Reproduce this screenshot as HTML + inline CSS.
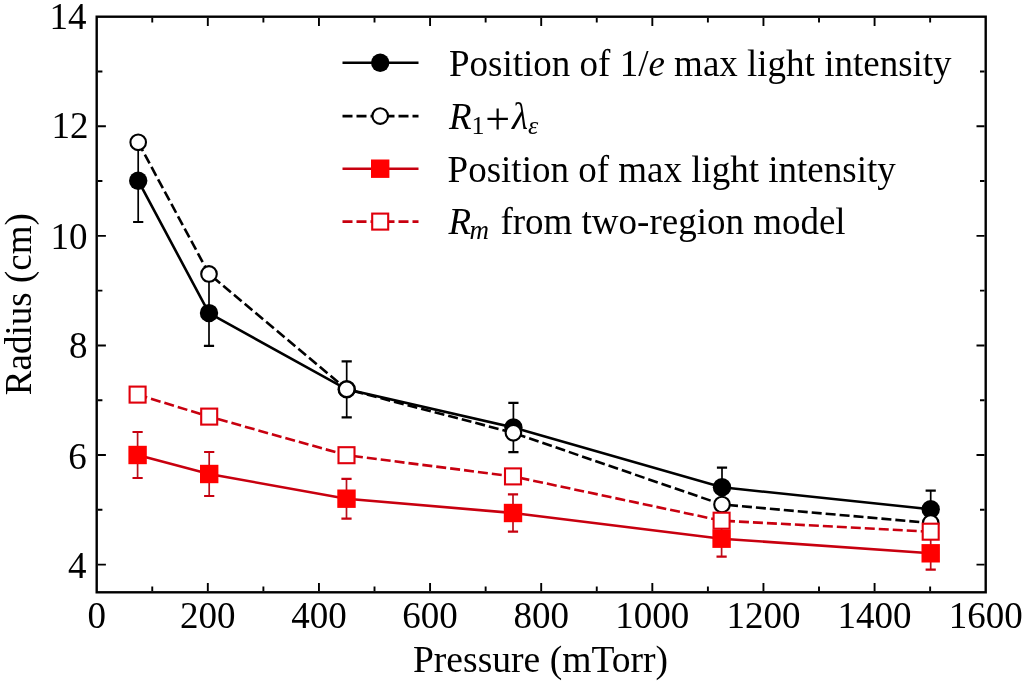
<!DOCTYPE html>
<html><head><meta charset="utf-8"><style>
html,body{margin:0;padding:0;background:#fff;}
body{width:1025px;height:682px;overflow:hidden;}
svg{display:block;filter:blur(0.35px);}
svg{font-family:"Liberation Serif",serif;font-size:37px;}
text{fill:#000;}
</style></head><body>
<svg width="1025" height="682" viewBox="0 0 1025 682">
<rect x="96.7" y="16.7" width="889.00" height="575.60" fill="none" stroke="#000" stroke-width="2.4"/>
<path d="M152.26 591.10v-4.5M152.26 17.90v4.5M207.82 591.10v-8M207.82 17.90v8M263.39 591.10v-4.5M263.39 17.90v4.5M318.95 591.10v-8M318.95 17.90v8M374.51 591.10v-4.5M374.51 17.90v4.5M430.07 591.10v-8M430.07 17.90v8M485.64 591.10v-4.5M485.64 17.90v4.5M541.20 591.10v-8M541.20 17.90v8M596.76 591.10v-4.5M596.76 17.90v4.5M652.33 591.10v-8M652.33 17.90v8M707.89 591.10v-4.5M707.89 17.90v4.5M763.45 591.10v-8M763.45 17.90v8M819.01 591.10v-4.5M819.01 17.90v4.5M874.58 591.10v-8M874.58 17.90v8M930.14 591.10v-4.5M930.14 17.90v4.5M97.90 564.60h8M984.50 564.60h-8M97.90 509.81h4.5M984.50 509.81h-4.5M97.90 455.02h8M984.50 455.02h-8M97.90 400.23h4.5M984.50 400.23h-4.5M97.90 345.44h8M984.50 345.44h-8M97.90 290.65h4.5M984.50 290.65h-4.5M97.90 235.86h8M984.50 235.86h-8M97.90 181.07h4.5M984.50 181.07h-4.5M97.90 126.28h8M984.50 126.28h-8M97.90 71.49h4.5M984.50 71.49h-4.5" stroke="#000" stroke-width="1.9" fill="none"/>
<text x="96.70" y="628" text-anchor="middle">0</text>
<text x="207.82" y="628" text-anchor="middle">200</text>
<text x="318.95" y="628" text-anchor="middle">400</text>
<text x="430.07" y="628" text-anchor="middle">600</text>
<text x="541.20" y="628" text-anchor="middle">800</text>
<text x="652.33" y="628" text-anchor="middle">1000</text>
<text x="763.45" y="628" text-anchor="middle">1200</text>
<text x="874.58" y="628" text-anchor="middle">1400</text>
<text x="985.70" y="628" text-anchor="middle">1600</text>
<text x="86.5" y="577.70" text-anchor="end">4</text>
<text x="86.8" y="468.72" text-anchor="end">6</text>
<text x="87.5" y="358.04" text-anchor="end">8</text>
<text x="87.5" y="248.96" text-anchor="end">10</text>
<text x="88.5" y="138.28" text-anchor="end">12</text>
<text x="86.5" y="29.00" text-anchor="end">14</text>
<text x="540.5" y="671.7" text-anchor="middle" font-size="37.6">Pressure (mTorr)</text>
<text transform="translate(30.6 304.2) rotate(-90)" text-anchor="middle">Radius (cm)</text>
<path d="M138.2 139.4V222.0M209.0 280.3V345.9M346.7 361.3V417.3M513.4 402.8V452.2M722.0 467.6V507.0M930.7 490.6V528.0" stroke="#000" stroke-width="1.7" fill="none"/>
<path d="M133.1 139.4h10.2M133.1 222.0h10.2M203.9 280.3h10.2M203.9 345.9h10.2M341.6 361.3h10.2M341.6 417.3h10.2M508.3 402.8h10.2M508.3 452.2h10.2M716.9 467.6h10.2M716.9 507.0h10.2M925.6 490.6h10.2M925.6 528.0h10.2" stroke="#000" stroke-width="2.2" fill="none"/>
<path d="M138.2 180.7L209.0 313.1L346.7 389.3L513.4 427.5L722.0 487.3L930.7 509.3" stroke="#000" stroke-width="2.6" fill="none"/>
<circle cx="138.2" cy="180.7" r="9.2" fill="#000"/>
<circle cx="209.0" cy="313.1" r="9.2" fill="#000"/>
<circle cx="346.7" cy="389.3" r="9.2" fill="#000"/>
<circle cx="513.4" cy="427.5" r="9.2" fill="#000"/>
<circle cx="722.0" cy="487.3" r="9.2" fill="#000"/>
<circle cx="930.7" cy="509.3" r="9.2" fill="#000"/>
<path d="M138.2 142.3L209.0 273.9L346.7 389.3L513.4 432.8L722.0 504.5L930.7 523.0" stroke="#000" stroke-width="2.6" fill="none" stroke-dasharray="10 4"/>
<circle cx="138.2" cy="142.3" r="7.8" fill="#fff" stroke="#000" stroke-width="2.1"/>
<circle cx="209.0" cy="273.9" r="7.8" fill="#fff" stroke="#000" stroke-width="2.1"/>
<circle cx="346.7" cy="389.3" r="7.8" fill="#fff" stroke="#000" stroke-width="2.1"/>
<circle cx="513.4" cy="432.8" r="7.8" fill="#fff" stroke="#000" stroke-width="2.1"/>
<circle cx="722.0" cy="504.5" r="7.8" fill="#fff" stroke="#000" stroke-width="2.1"/>
<circle cx="930.7" cy="523.0" r="7.8" fill="#fff" stroke="#000" stroke-width="2.1"/>
<path d="M137.6 432.0V478.0M209.2 452.0V496.0M346.5 478.8V518.6M513.0 494.3V531.7M721.6 520.7V556.7M930.7 536.9V569.7" stroke="#b8101c" stroke-width="1.7" fill="none"/>
<path d="M132.5 432.0h10.2M132.5 478.0h10.2M204.1 452.0h10.2M204.1 496.0h10.2M341.4 478.8h10.2M341.4 518.6h10.2M507.9 494.3h10.2M507.9 531.7h10.2M716.5 520.7h10.2M716.5 556.7h10.2M925.6 536.9h10.2M925.6 569.7h10.2" stroke="#c8000f" stroke-width="2.2" fill="none"/>
<path d="M137.6 455.0L209.2 474.0L346.5 498.7L513.0 513.0L721.6 538.7L930.7 553.3" stroke="#c8000f" stroke-width="2.6" fill="none"/>
<rect x="128.4" y="445.8" width="18.4" height="18.4" fill="#f00"/>
<rect x="200.0" y="464.8" width="18.4" height="18.4" fill="#f00"/>
<rect x="337.3" y="489.5" width="18.4" height="18.4" fill="#f00"/>
<rect x="503.8" y="503.8" width="18.4" height="18.4" fill="#f00"/>
<rect x="712.4" y="529.5" width="18.4" height="18.4" fill="#f00"/>
<rect x="921.5" y="544.1" width="18.4" height="18.4" fill="#f00"/>
<path d="M137.6 394.6L209.2 416.6L346.5 455.2L513.0 476.4L721.6 520.7L930.7 531.7" stroke="#c8000f" stroke-width="2.6" fill="none" stroke-dasharray="10 4"/>
<rect x="129.6" y="386.6" width="16" height="16" fill="#fff" stroke="#e0000c" stroke-width="2.1"/>
<rect x="201.2" y="408.6" width="16" height="16" fill="#fff" stroke="#e0000c" stroke-width="2.1"/>
<rect x="338.5" y="447.2" width="16" height="16" fill="#fff" stroke="#e0000c" stroke-width="2.1"/>
<rect x="505.0" y="468.4" width="16" height="16" fill="#fff" stroke="#e0000c" stroke-width="2.1"/>
<rect x="713.6" y="512.7" width="16" height="16" fill="#fff" stroke="#e0000c" stroke-width="2.1"/>
<rect x="922.7" y="523.7" width="16" height="16" fill="#fff" stroke="#e0000c" stroke-width="2.1"/>
<path d="M342.5 62.7H418.5" stroke="#000" stroke-width="2.6"/>
<circle cx="380.2" cy="62.7" r="9.2" fill="#000"/>
<path d="M342.5 116.1H418.5" stroke="#000" stroke-width="2.6" stroke-dasharray="10 4"/>
<circle cx="380.2" cy="116.1" r="7.8" fill="#fff" stroke="#000" stroke-width="2.1"/>
<path d="M342.5 168.7H418.5" stroke="#c8000f" stroke-width="2.6"/>
<rect x="371.0" y="159.5" width="18.4" height="18.4" fill="#f00"/>
<path d="M342.5 221.6H418.5" stroke="#c8000f" stroke-width="2.6" stroke-dasharray="10 4"/>
<rect x="372.2" y="213.6" width="16" height="16" fill="#fff" stroke="#e0000c" stroke-width="2.1"/>
<text x="449" y="75.6">Position of 1/<tspan font-style="italic">e</tspan> max light intensity</text>
<text x="449" y="128.6" font-style="italic">R</text>
<text x="471.5" y="134.2" font-size="26">1</text>
<text x="485.2" y="134.2" font-size="44">+</text>
<text x="512" y="128.7" font-style="italic">λ</text>
<text x="528" y="133.8" font-size="26" font-style="italic">ε</text>
<text x="447.6" y="182.2">Position of max light intensity</text>
<text x="448.6" y="234" font-style="italic">R</text>
<text x="469.5" y="239" font-size="27" font-style="italic">m</text>
<text x="500.4" y="234">from two-region model</text>
</svg>
</body></html>
